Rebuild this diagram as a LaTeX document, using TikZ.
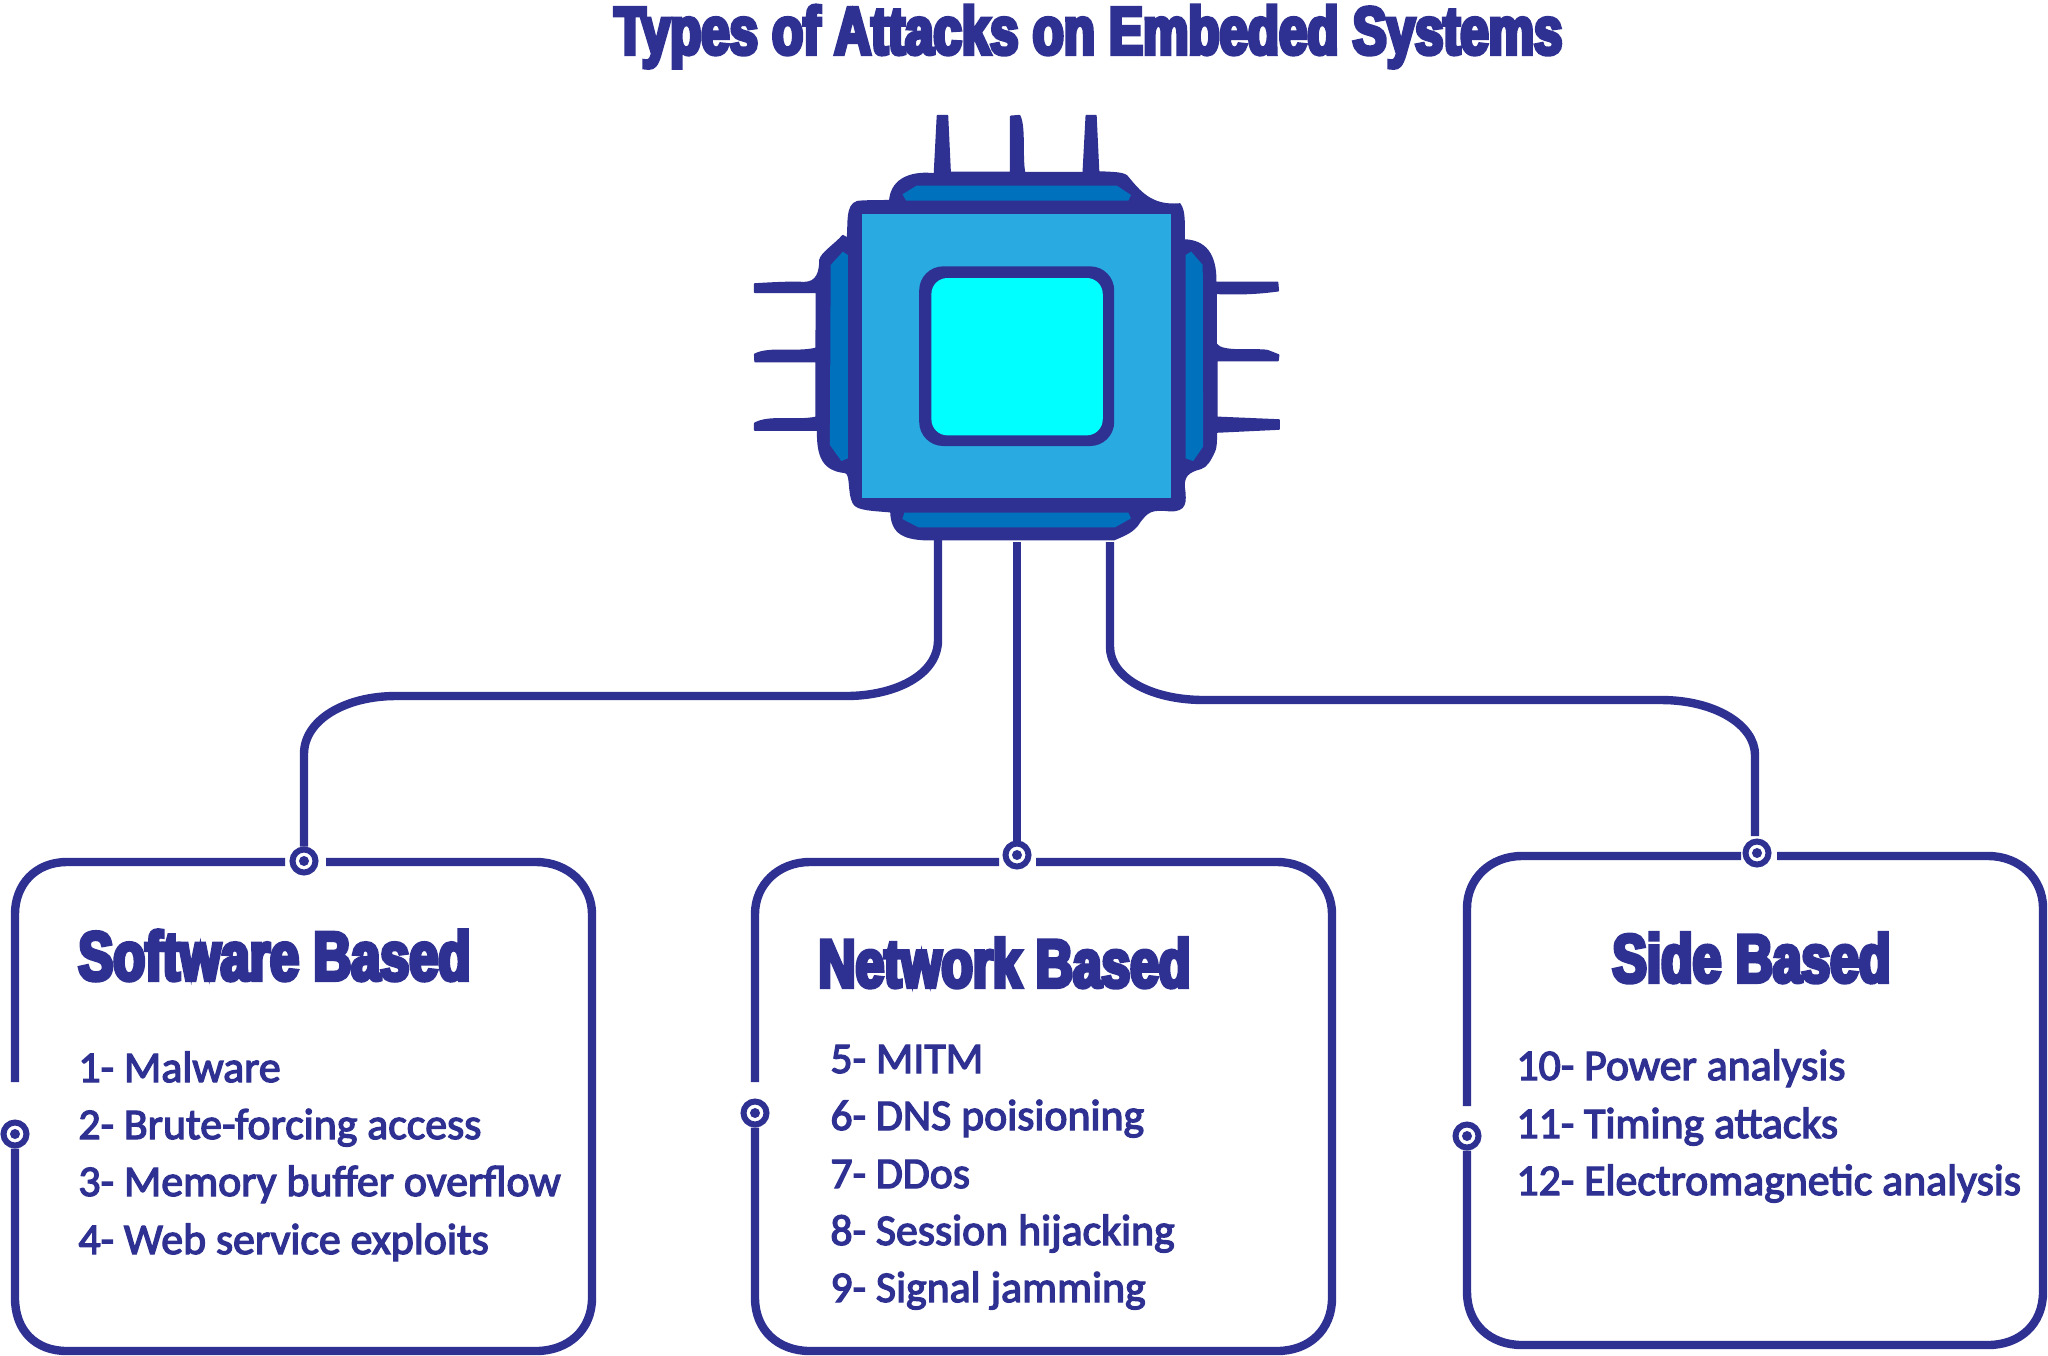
\documentclass[tikz,border=0pt]{standalone}
\usepackage{fontspec}
\usepackage{graphicx}
\setmainfont[FakeBold=3]{Carlito}
\newfontfamily\headfont[FakeStretch=0.76,FakeBold=6]{Liberation Sans Bold}
\definecolor{ink}{HTML}{2E3192}
\definecolor{face}{HTML}{29ABE2}
\definecolor{side}{HTML}{0071BC}
\definecolor{core}{HTML}{00FFFF}
\tikzset{
  conn/.style={draw=ink,line width=4.2pt},
  frame/.style={draw=ink,line width=4.2pt},
  port/.style={circle,draw=ink,line width=3pt,fill=white,minimum size=11.5pt,inner sep=0pt},
  head/.style={anchor=base west,inner sep=0pt,text=ink,font=\headfont},
  item/.style={anchor=base west,inner sep=0pt,text=ink,font=\fontsize{21.9pt}{26pt}\selectfont},
}
\begin{document}
\begin{tikzpicture}[x=0.5pt,y=-0.5pt]
\useasboundingbox (0,0) rectangle (2048,1355);
\fill[white] (0,0) rectangle (2048,1355);
% chip
\begin{scope}[shift={(720,90)},x=0.1908pt,y=-0.16667pt]
\filldraw[ink,line width=0.8pt,line join=round] (445,332) .. controls (450,260) and (510,245) .. (562,252) -- (570,77) -- (596,77) -- (603,247) -- (762,247) -- (762,79) -- (785,77)
 .. controls (800,110) and (790,200) .. (798,248) -- (952,248) -- (960,77) -- (985,77) -- (992,246)
 .. controls (1030,248) and (1055,248) .. (1066,258) .. controls (1100,305) and (1130,350) .. (1205,342)
 .. controls (1220,365) and (1215,410) .. (1216,450) .. controls (1270,452) and (1300,490) .. (1299,577)
 -- (1461,577) -- (1463,602) .. controls (1400,612) and (1350,612) .. (1300,610) -- (1300,762)
 .. controls (1315,790) and (1400,775) .. (1435,782) -- (1464,795) -- (1462,812) -- (1302,812) -- (1302,982) -- (1465,990) -- (1465,1017) -- (1301,1026)
 .. controls (1300,1060) and (1300,1075) .. (1295,1085) .. controls (1285,1110) and (1275,1130) .. (1260,1135)
 .. controls (1225,1145) and (1215,1160) .. (1216,1190) .. controls (1222,1240) and (1220,1262) .. (1180,1262)
 .. controls (1130,1255) and (1120,1265) .. (1100,1295) .. controls (1085,1325) and (1060,1335) .. (1032,1349)
 -- (560,1349) .. controls (480,1350) and (450,1330) .. (448,1265) .. controls (400,1260) and (360,1260) .. (350,1240)
 .. controls (335,1210) and (345,1150) .. (328,1147) .. controls (270,1140) and (255,1100) .. (256,1020)
 -- (91,1020) -- (91,1000) .. controls (130,975) and (200,995) .. (252,982) -- (252,815) -- (92,815) -- (91,793)
 .. controls (130,770) and (200,790) .. (252,775) -- (253,607) -- (91,607) -- (91,582)
 .. controls (150,578) and (190,576) .. (220,578) .. controls (255,578) and (262,545) .. (262,510)
 .. controls (265,490) and (300,465) .. (322,437) -- (334,445) .. controls (338,400) and (330,345) .. (360,335)
 .. controls (380,332) and (420,333) .. (445,332) -- cycle;
\fill[side] (478,313) -- (515,287) -- (1040,287) -- (1077,315) -- (1070,332) -- (488,332) -- cycle;
\fill[side] (483,1268) -- (1070,1268) -- (1077,1285) -- (1035,1312) -- (520,1312) -- (478,1287) -- cycle;
\fill[side] (335,495) -- (322,485) -- (290,525) -- (288,1065) -- (318,1113) -- (335,1105) -- cycle;
\fill[side] (1220,495) -- (1235,485) -- (1265,525) -- (1266,1070) -- (1240,1113) -- (1220,1105) -- cycle;
\fill[face] (373,373) rectangle (1183,1224);
\fill[ink,rounded corners=12pt] (522,529) rectangle (1033,1068);
\fill[core,rounded corners=8pt] (554,564) rectangle (1003,1036);
\end{scope}
% ports
\node[port] (p1) at (304,861) {};
\node[port] (p2) at (1017,855) {};
\node[port] (p3) at (1757,853) {};
\node[port] (q1) at (15,1134) {};
\node[port] (q2) at (755,1113) {};
\node[port] (q3) at (1467,1136) {};
\coordinate (s1) at (938,540);
\coordinate (s2) at (1017,542);
\coordinate (s3) at (1110,542);
% connectors
\draw[conn] (s1) -- (938,640) .. controls (938,675) and (895,696) .. (846,696) -- (396,696) .. controls (345,696) and (304,720) .. (304,754) -- (p1.north);
\draw[conn] (s2) -- (p2.north);
\draw[conn] (s3) -- (1110,647) .. controls (1110,677) and (1150,700) .. (1204,700) -- (1661,700) .. controls (1715,700) and (1755,725) .. (1755,755) -- (1755,836);
% frames
\draw[frame] (q1.south) -- (15,1298) .. controls (15,1330) and (35,1351) .. (67,1351) -- (536,1351) .. controls (568,1351) and (592,1330) .. (592,1298) -- (592,914) .. controls (592,885) and (568,862) .. (536,862) -- (326,862);
\draw[frame] (285,862) -- (67,862) .. controls (35,862) and (15,885) .. (15,914) -- (15,1082);
\draw[frame] (q2.south) -- (755,1298) .. controls (755,1330) and (778,1351) .. (810,1351) -- (1277,1351) .. controls (1309,1351) and (1332,1330) .. (1332,1298) -- (1332,914) .. controls (1332,885) and (1309,862) .. (1277,862) -- (1036,862);
\draw[frame] (999,862) -- (810,862) .. controls (778,862) and (755,885) .. (755,914) -- (755,1082);
\draw[frame] (q3.south) -- (1467,1292) .. controls (1467,1324) and (1490,1345) .. (1522,1345) -- (1988,1345) .. controls (2020,1345) and (2043,1324) .. (2043,1292) -- (2043,908) .. controls (2043,879) and (2020,856) .. (1988,856) -- (1777,856);
\draw[frame] (1741,856) -- (1522,856) .. controls (1490,856) and (1467,879) .. (1467,908) -- (1467,1106);
\foreach \n in {p1,p2,p3,q1,q2,q3} \fill[ink] (\n) circle (5);
% title and headings
\node[head] (title) at (614,54) {\resizebox{474pt}{!}{Types of Attacks on Embeded Systems}};
\node[head] (h1) at (78,980) {\resizebox{196pt}{!}{Software Based}};
\node[head] (h2) at (818,987) {\resizebox{186pt}{!}{Network Based}};
\node[head] (h3) at (1612,982) {\resizebox{139pt}{!}{Side Based}};
% lists
\node[item] (a1) at (78,1082) {1- Malware};
\node[item] (a2) at (78,1139) {2- Brute-forcing access};
\node[item] (a3) at (78,1196) {3- Memory buffer overflow};
\node[item] (a4) at (78,1254) {4- Web service exploits};
\node[item] (b1) at (830,1073) {5- MITM};
\node[item] (b2) at (830,1130) {6- DNS poisioning};
\node[item] (b3) at (830,1188) {7- DDos};
\node[item] (b4) at (830,1245) {8- Session hijacking};
\node[item] (b5) at (830,1302) {9- Signal jamming};
\node[item] (c1) at (1516,1080) {10- Power analysis};
\node[item] (c2) at (1516,1138) {11- Timing attacks};
\node[item] (c3) at (1516,1195) {12- Electromagnetic analysis};
\end{tikzpicture}
\end{document}
